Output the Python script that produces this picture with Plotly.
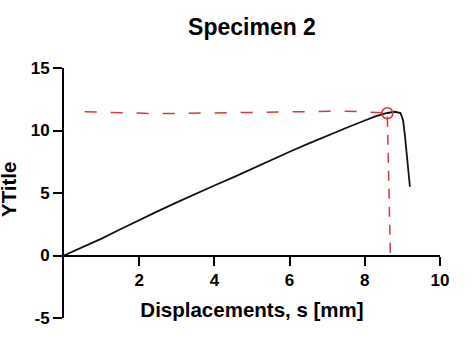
import plotly.graph_objects as go

# Measured curve (displacement mm, force)
disp = [0, 0.5, 1, 1.5, 2, 2.5, 3, 3.5, 4, 4.5, 5, 5.5, 6, 6.5, 7, 7.5, 8, 8.3, 8.6, 8.8, 8.95, 9.02, 9.07, 9.12, 9.17, 9.2]
force = [0, 0.65, 1.35, 2.1, 2.85, 3.55, 4.25, 4.95, 5.6, 6.25, 6.95, 7.6, 8.3, 8.95, 9.6, 10.2, 10.8, 11.15, 11.4, 11.5, 11.4, 10.8, 9.5, 7.8, 6.3, 5.5]

# Hand-drawn red guide lines
h_guide_x = [0.55, 2.5, 5.0, 7.5, 8.6]
h_guide_y = [11.5, 11.35, 11.45, 11.55, 11.4]
v_guide_x = [8.6, 8.68]
v_guide_y = [11.1, 0]
peak_x = [8.6]
peak_y = [11.38]

x_ticks = [2, 4, 6, 8, 10]
y_ticks = [-5, 0, 5, 10, 15]

FONT = "Liberation Sans, Arial, sans-serif"
RED = "#d23a3a"

fig = go.Figure()
fig.add_trace(go.Scatter(x=disp, y=force, mode="lines",
                         line=dict(color="#111111", width=1.8), showlegend=False))
fig.add_trace(go.Scatter(x=h_guide_x, y=h_guide_y, mode="lines",
                         line=dict(color=RED, width=1.5, dash="12px,14px"), showlegend=False))
fig.add_trace(go.Scatter(x=v_guide_x, y=v_guide_y, mode="lines",
                         line=dict(color=RED, width=1.5, dash="10px,8px"), showlegend=False))
fig.add_trace(go.Scatter(x=peak_x, y=peak_y, mode="markers",
                         marker=dict(symbol="circle-open", size=11, color=RED, line=dict(width=1.5)),
                         showlegend=False))

fig.update_layout(
    width=474, height=358,
    margin=dict(l=64, r=34, t=68, b=40, autoexpand=False),
    paper_bgcolor="white", plot_bgcolor="white",
    font=dict(family=FONT, color="black"),
    title=dict(text="<b>Specimen 2</b>", x=(252) / 474, xanchor="center",
               y=1 - 27 / 358, yanchor="middle", font=dict(size=23, family=FONT)),
    xaxis=dict(range=[0, 10], tickvals=x_ticks, ticktext=[f"<b>{v}</b>" for v in x_ticks],
               showgrid=False, zeroline=False, showline=True, linecolor="black", linewidth=2,
               ticks="outside", ticklen=9, tickwidth=2, tickcolor="black",
               anchor="free", position=0.25, automargin=False,
               tickfont=dict(size=17, family=FONT),
               title=dict(text="<b>Displacements, s [mm]</b>", font=dict(size=20.5, family=FONT), standoff=13)),
    yaxis=dict(range=[-5, 15], tickvals=y_ticks, ticktext=[f"<b>{v}</b>" for v in y_ticks],
               showgrid=False, zeroline=False, showline=True, linecolor="black", linewidth=2,
               ticks="outside", ticklen=9, tickwidth=2, tickcolor="black", automargin=False,
               tickfont=dict(size=17, family=FONT)),
    annotations=[dict(text="<b>YTitle</b>", xref="paper", yref="paper",
                      x=(8 - 64) / 376, y=0.512, xanchor="center", yanchor="middle",
                      textangle=-90, showarrow=False, font=dict(size=20.5, family=FONT))],
)

fig.write_html("out.html", config={"displayModeBar": False},
               post_script="document.body.style.margin='0';")
